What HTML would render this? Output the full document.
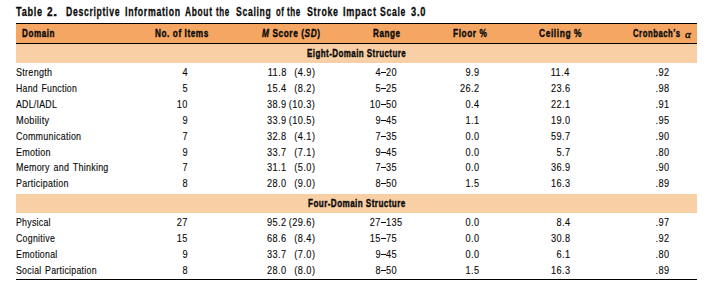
<!DOCTYPE html>
<html><head><meta charset="utf-8"><style>
html,body{margin:0;padding:0;background:#fff;width:713px;height:294px;overflow:hidden;position:relative}
.t{position:absolute;white-space:nowrap;font-family:"Liberation Sans",sans-serif;color:#0a0a0a;line-height:1}
</style></head><body>
<div style="position:absolute;left:16px;top:23px;width:681px;height:1px;background:#000"></div>
<div style="position:absolute;left:16px;top:24px;width:681px;height:19px;background:#F5A663"></div>
<div style="position:absolute;left:16px;top:43px;width:681px;height:1px;background:#000"></div>
<div style="position:absolute;left:16px;top:44px;width:681px;height:19px;background:#F9CFA5"></div>
<div style="position:absolute;left:16px;top:194px;width:681px;height:19px;background:#F9CFA5"></div>
<div style="position:absolute;left:16px;top:279px;width:681px;height:1px;background:#000"></div>
<div class="t" style="right:524.66px;transform-origin:100% 0;transform:scaleX(0.8000);top:66.97px;font-size:11.5px;font-weight:normal;-webkit-text-stroke:0.12px #0a0a0a;letter-spacing:0.55px;">4</div>
<div class="t" style="right:426.36px;transform-origin:100% 0;transform:scaleX(0.8000);top:66.97px;font-size:11.5px;font-weight:normal;-webkit-text-stroke:0.12px #0a0a0a;letter-spacing:0.55px;">11.8</div>
<div class="t" style="right:397.86px;transform-origin:100% 0;transform:scaleX(0.8000);top:66.97px;font-size:11.5px;font-weight:normal;-webkit-text-stroke:0.12px #0a0a0a;letter-spacing:0.55px;">(4.9)</div>
<div class="t" style="right:331.96px;transform-origin:100% 0;transform:scaleX(0.8000);top:66.97px;font-size:11.5px;font-weight:normal;-webkit-text-stroke:0.12px #0a0a0a;letter-spacing:0.55px;">4</div>
<div style="position:absolute;left:380.6px;top:71.60px;width:5.2px;height:1.1px;background:#0a0a0a"></div>
<div class="t" style="left:386.20px;transform-origin:0 0;transform:scaleX(0.8000);top:66.97px;font-size:11.5px;font-weight:normal;-webkit-text-stroke:0.12px #0a0a0a;letter-spacing:0.55px;">20</div>
<div class="t" style="right:233.56px;transform-origin:100% 0;transform:scaleX(0.8000);top:66.97px;font-size:11.5px;font-weight:normal;-webkit-text-stroke:0.12px #0a0a0a;letter-spacing:0.55px;">9.9</div>
<div class="t" style="right:142.86px;transform-origin:100% 0;transform:scaleX(0.8000);top:66.97px;font-size:11.5px;font-weight:normal;-webkit-text-stroke:0.12px #0a0a0a;letter-spacing:0.55px;">11.4</div>
<div class="t" style="right:43.26px;transform-origin:100% 0;transform:scaleX(0.8000);top:66.97px;font-size:11.5px;font-weight:normal;-webkit-text-stroke:0.12px #0a0a0a;letter-spacing:0.55px;">.92</div>
<div class="t" style="right:524.66px;transform-origin:100% 0;transform:scaleX(0.8000);top:82.97px;font-size:11.5px;font-weight:normal;-webkit-text-stroke:0.12px #0a0a0a;letter-spacing:0.55px;">5</div>
<div class="t" style="right:426.36px;transform-origin:100% 0;transform:scaleX(0.8000);top:82.97px;font-size:11.5px;font-weight:normal;-webkit-text-stroke:0.12px #0a0a0a;letter-spacing:0.55px;">15.4</div>
<div class="t" style="right:397.86px;transform-origin:100% 0;transform:scaleX(0.8000);top:82.97px;font-size:11.5px;font-weight:normal;-webkit-text-stroke:0.12px #0a0a0a;letter-spacing:0.55px;">(8.2)</div>
<div class="t" style="right:331.96px;transform-origin:100% 0;transform:scaleX(0.8000);top:82.97px;font-size:11.5px;font-weight:normal;-webkit-text-stroke:0.12px #0a0a0a;letter-spacing:0.55px;">5</div>
<div style="position:absolute;left:380.6px;top:87.60px;width:5.2px;height:1.1px;background:#0a0a0a"></div>
<div class="t" style="left:386.20px;transform-origin:0 0;transform:scaleX(0.8000);top:82.97px;font-size:11.5px;font-weight:normal;-webkit-text-stroke:0.12px #0a0a0a;letter-spacing:0.55px;">25</div>
<div class="t" style="right:233.56px;transform-origin:100% 0;transform:scaleX(0.8000);top:82.97px;font-size:11.5px;font-weight:normal;-webkit-text-stroke:0.12px #0a0a0a;letter-spacing:0.55px;">26.2</div>
<div class="t" style="right:142.86px;transform-origin:100% 0;transform:scaleX(0.8000);top:82.97px;font-size:11.5px;font-weight:normal;-webkit-text-stroke:0.12px #0a0a0a;letter-spacing:0.55px;">23.6</div>
<div class="t" style="right:43.26px;transform-origin:100% 0;transform:scaleX(0.8000);top:82.97px;font-size:11.5px;font-weight:normal;-webkit-text-stroke:0.12px #0a0a0a;letter-spacing:0.55px;">.98</div>
<div class="t" style="right:524.66px;transform-origin:100% 0;transform:scaleX(0.8000);top:98.97px;font-size:11.5px;font-weight:normal;-webkit-text-stroke:0.12px #0a0a0a;letter-spacing:0.55px;">10</div>
<div class="t" style="right:426.36px;transform-origin:100% 0;transform:scaleX(0.8000);top:98.97px;font-size:11.5px;font-weight:normal;-webkit-text-stroke:0.12px #0a0a0a;letter-spacing:0.55px;">38.9</div>
<div class="t" style="right:397.86px;transform-origin:100% 0;transform:scaleX(0.8000);top:98.97px;font-size:11.5px;font-weight:normal;-webkit-text-stroke:0.12px #0a0a0a;letter-spacing:0.55px;">(10.3)</div>
<div class="t" style="right:331.96px;transform-origin:100% 0;transform:scaleX(0.8000);top:98.97px;font-size:11.5px;font-weight:normal;-webkit-text-stroke:0.12px #0a0a0a;letter-spacing:0.55px;">10</div>
<div style="position:absolute;left:380.6px;top:103.60px;width:5.2px;height:1.1px;background:#0a0a0a"></div>
<div class="t" style="left:386.20px;transform-origin:0 0;transform:scaleX(0.8000);top:98.97px;font-size:11.5px;font-weight:normal;-webkit-text-stroke:0.12px #0a0a0a;letter-spacing:0.55px;">50</div>
<div class="t" style="right:233.56px;transform-origin:100% 0;transform:scaleX(0.8000);top:98.97px;font-size:11.5px;font-weight:normal;-webkit-text-stroke:0.12px #0a0a0a;letter-spacing:0.55px;">0.4</div>
<div class="t" style="right:142.86px;transform-origin:100% 0;transform:scaleX(0.8000);top:98.97px;font-size:11.5px;font-weight:normal;-webkit-text-stroke:0.12px #0a0a0a;letter-spacing:0.55px;">22.1</div>
<div class="t" style="right:43.26px;transform-origin:100% 0;transform:scaleX(0.8000);top:98.97px;font-size:11.5px;font-weight:normal;-webkit-text-stroke:0.12px #0a0a0a;letter-spacing:0.55px;">.91</div>
<div class="t" style="right:524.66px;transform-origin:100% 0;transform:scaleX(0.8000);top:114.97px;font-size:11.5px;font-weight:normal;-webkit-text-stroke:0.12px #0a0a0a;letter-spacing:0.55px;">9</div>
<div class="t" style="right:426.36px;transform-origin:100% 0;transform:scaleX(0.8000);top:114.97px;font-size:11.5px;font-weight:normal;-webkit-text-stroke:0.12px #0a0a0a;letter-spacing:0.55px;">33.9</div>
<div class="t" style="right:397.86px;transform-origin:100% 0;transform:scaleX(0.8000);top:114.97px;font-size:11.5px;font-weight:normal;-webkit-text-stroke:0.12px #0a0a0a;letter-spacing:0.55px;">(10.5)</div>
<div class="t" style="right:331.96px;transform-origin:100% 0;transform:scaleX(0.8000);top:114.97px;font-size:11.5px;font-weight:normal;-webkit-text-stroke:0.12px #0a0a0a;letter-spacing:0.55px;">9</div>
<div style="position:absolute;left:380.6px;top:119.60px;width:5.2px;height:1.1px;background:#0a0a0a"></div>
<div class="t" style="left:386.20px;transform-origin:0 0;transform:scaleX(0.8000);top:114.97px;font-size:11.5px;font-weight:normal;-webkit-text-stroke:0.12px #0a0a0a;letter-spacing:0.55px;">45</div>
<div class="t" style="right:233.56px;transform-origin:100% 0;transform:scaleX(0.8000);top:114.97px;font-size:11.5px;font-weight:normal;-webkit-text-stroke:0.12px #0a0a0a;letter-spacing:0.55px;">1.1</div>
<div class="t" style="right:142.86px;transform-origin:100% 0;transform:scaleX(0.8000);top:114.97px;font-size:11.5px;font-weight:normal;-webkit-text-stroke:0.12px #0a0a0a;letter-spacing:0.55px;">19.0</div>
<div class="t" style="right:43.26px;transform-origin:100% 0;transform:scaleX(0.8000);top:114.97px;font-size:11.5px;font-weight:normal;-webkit-text-stroke:0.12px #0a0a0a;letter-spacing:0.55px;">.95</div>
<div class="t" style="right:524.66px;transform-origin:100% 0;transform:scaleX(0.8000);top:130.97px;font-size:11.5px;font-weight:normal;-webkit-text-stroke:0.12px #0a0a0a;letter-spacing:0.55px;">7</div>
<div class="t" style="right:426.36px;transform-origin:100% 0;transform:scaleX(0.8000);top:130.97px;font-size:11.5px;font-weight:normal;-webkit-text-stroke:0.12px #0a0a0a;letter-spacing:0.55px;">32.8</div>
<div class="t" style="right:397.86px;transform-origin:100% 0;transform:scaleX(0.8000);top:130.97px;font-size:11.5px;font-weight:normal;-webkit-text-stroke:0.12px #0a0a0a;letter-spacing:0.55px;">(4.1)</div>
<div class="t" style="right:331.96px;transform-origin:100% 0;transform:scaleX(0.8000);top:130.97px;font-size:11.5px;font-weight:normal;-webkit-text-stroke:0.12px #0a0a0a;letter-spacing:0.55px;">7</div>
<div style="position:absolute;left:380.6px;top:135.60px;width:5.2px;height:1.1px;background:#0a0a0a"></div>
<div class="t" style="left:386.20px;transform-origin:0 0;transform:scaleX(0.8000);top:130.97px;font-size:11.5px;font-weight:normal;-webkit-text-stroke:0.12px #0a0a0a;letter-spacing:0.55px;">35</div>
<div class="t" style="right:233.56px;transform-origin:100% 0;transform:scaleX(0.8000);top:130.97px;font-size:11.5px;font-weight:normal;-webkit-text-stroke:0.12px #0a0a0a;letter-spacing:0.55px;">0.0</div>
<div class="t" style="right:142.86px;transform-origin:100% 0;transform:scaleX(0.8000);top:130.97px;font-size:11.5px;font-weight:normal;-webkit-text-stroke:0.12px #0a0a0a;letter-spacing:0.55px;">59.7</div>
<div class="t" style="right:43.26px;transform-origin:100% 0;transform:scaleX(0.8000);top:130.97px;font-size:11.5px;font-weight:normal;-webkit-text-stroke:0.12px #0a0a0a;letter-spacing:0.55px;">.90</div>
<div class="t" style="right:524.66px;transform-origin:100% 0;transform:scaleX(0.8000);top:146.97px;font-size:11.5px;font-weight:normal;-webkit-text-stroke:0.12px #0a0a0a;letter-spacing:0.55px;">9</div>
<div class="t" style="right:426.36px;transform-origin:100% 0;transform:scaleX(0.8000);top:146.97px;font-size:11.5px;font-weight:normal;-webkit-text-stroke:0.12px #0a0a0a;letter-spacing:0.55px;">33.7</div>
<div class="t" style="right:397.86px;transform-origin:100% 0;transform:scaleX(0.8000);top:146.97px;font-size:11.5px;font-weight:normal;-webkit-text-stroke:0.12px #0a0a0a;letter-spacing:0.55px;">(7.1)</div>
<div class="t" style="right:331.96px;transform-origin:100% 0;transform:scaleX(0.8000);top:146.97px;font-size:11.5px;font-weight:normal;-webkit-text-stroke:0.12px #0a0a0a;letter-spacing:0.55px;">9</div>
<div style="position:absolute;left:380.6px;top:151.60px;width:5.2px;height:1.1px;background:#0a0a0a"></div>
<div class="t" style="left:386.20px;transform-origin:0 0;transform:scaleX(0.8000);top:146.97px;font-size:11.5px;font-weight:normal;-webkit-text-stroke:0.12px #0a0a0a;letter-spacing:0.55px;">45</div>
<div class="t" style="right:233.56px;transform-origin:100% 0;transform:scaleX(0.8000);top:146.97px;font-size:11.5px;font-weight:normal;-webkit-text-stroke:0.12px #0a0a0a;letter-spacing:0.55px;">0.0</div>
<div class="t" style="right:142.86px;transform-origin:100% 0;transform:scaleX(0.8000);top:146.97px;font-size:11.5px;font-weight:normal;-webkit-text-stroke:0.12px #0a0a0a;letter-spacing:0.55px;">5.7</div>
<div class="t" style="right:43.26px;transform-origin:100% 0;transform:scaleX(0.8000);top:146.97px;font-size:11.5px;font-weight:normal;-webkit-text-stroke:0.12px #0a0a0a;letter-spacing:0.55px;">.80</div>
<div class="t" style="right:524.66px;transform-origin:100% 0;transform:scaleX(0.8000);top:162.17px;font-size:11.5px;font-weight:normal;-webkit-text-stroke:0.12px #0a0a0a;letter-spacing:0.55px;">7</div>
<div class="t" style="right:426.36px;transform-origin:100% 0;transform:scaleX(0.8000);top:162.17px;font-size:11.5px;font-weight:normal;-webkit-text-stroke:0.12px #0a0a0a;letter-spacing:0.55px;">31.1</div>
<div class="t" style="right:397.86px;transform-origin:100% 0;transform:scaleX(0.8000);top:162.17px;font-size:11.5px;font-weight:normal;-webkit-text-stroke:0.12px #0a0a0a;letter-spacing:0.55px;">(5.0)</div>
<div class="t" style="right:331.96px;transform-origin:100% 0;transform:scaleX(0.8000);top:162.17px;font-size:11.5px;font-weight:normal;-webkit-text-stroke:0.12px #0a0a0a;letter-spacing:0.55px;">7</div>
<div style="position:absolute;left:380.6px;top:166.80px;width:5.2px;height:1.1px;background:#0a0a0a"></div>
<div class="t" style="left:386.20px;transform-origin:0 0;transform:scaleX(0.8000);top:162.17px;font-size:11.5px;font-weight:normal;-webkit-text-stroke:0.12px #0a0a0a;letter-spacing:0.55px;">35</div>
<div class="t" style="right:233.56px;transform-origin:100% 0;transform:scaleX(0.8000);top:162.17px;font-size:11.5px;font-weight:normal;-webkit-text-stroke:0.12px #0a0a0a;letter-spacing:0.55px;">0.0</div>
<div class="t" style="right:142.86px;transform-origin:100% 0;transform:scaleX(0.8000);top:162.17px;font-size:11.5px;font-weight:normal;-webkit-text-stroke:0.12px #0a0a0a;letter-spacing:0.55px;">36.9</div>
<div class="t" style="right:43.26px;transform-origin:100% 0;transform:scaleX(0.8000);top:162.17px;font-size:11.5px;font-weight:normal;-webkit-text-stroke:0.12px #0a0a0a;letter-spacing:0.55px;">.90</div>
<div class="t" style="right:524.66px;transform-origin:100% 0;transform:scaleX(0.8000);top:178.07px;font-size:11.5px;font-weight:normal;-webkit-text-stroke:0.12px #0a0a0a;letter-spacing:0.55px;">8</div>
<div class="t" style="right:426.36px;transform-origin:100% 0;transform:scaleX(0.8000);top:178.07px;font-size:11.5px;font-weight:normal;-webkit-text-stroke:0.12px #0a0a0a;letter-spacing:0.55px;">28.0</div>
<div class="t" style="right:397.86px;transform-origin:100% 0;transform:scaleX(0.8000);top:178.07px;font-size:11.5px;font-weight:normal;-webkit-text-stroke:0.12px #0a0a0a;letter-spacing:0.55px;">(9.0)</div>
<div class="t" style="right:331.96px;transform-origin:100% 0;transform:scaleX(0.8000);top:178.07px;font-size:11.5px;font-weight:normal;-webkit-text-stroke:0.12px #0a0a0a;letter-spacing:0.55px;">8</div>
<div style="position:absolute;left:380.6px;top:182.70px;width:5.2px;height:1.1px;background:#0a0a0a"></div>
<div class="t" style="left:386.20px;transform-origin:0 0;transform:scaleX(0.8000);top:178.07px;font-size:11.5px;font-weight:normal;-webkit-text-stroke:0.12px #0a0a0a;letter-spacing:0.55px;">50</div>
<div class="t" style="right:233.56px;transform-origin:100% 0;transform:scaleX(0.8000);top:178.07px;font-size:11.5px;font-weight:normal;-webkit-text-stroke:0.12px #0a0a0a;letter-spacing:0.55px;">1.5</div>
<div class="t" style="right:142.86px;transform-origin:100% 0;transform:scaleX(0.8000);top:178.07px;font-size:11.5px;font-weight:normal;-webkit-text-stroke:0.12px #0a0a0a;letter-spacing:0.55px;">16.3</div>
<div class="t" style="right:43.26px;transform-origin:100% 0;transform:scaleX(0.8000);top:178.07px;font-size:11.5px;font-weight:normal;-webkit-text-stroke:0.12px #0a0a0a;letter-spacing:0.55px;">.89</div>
<div class="t" style="right:524.66px;transform-origin:100% 0;transform:scaleX(0.8000);top:216.97px;font-size:11.5px;font-weight:normal;-webkit-text-stroke:0.12px #0a0a0a;letter-spacing:0.55px;">27</div>
<div class="t" style="right:426.36px;transform-origin:100% 0;transform:scaleX(0.8000);top:216.97px;font-size:11.5px;font-weight:normal;-webkit-text-stroke:0.12px #0a0a0a;letter-spacing:0.55px;">95.2</div>
<div class="t" style="right:397.86px;transform-origin:100% 0;transform:scaleX(0.8000);top:216.97px;font-size:11.5px;font-weight:normal;-webkit-text-stroke:0.12px #0a0a0a;letter-spacing:0.55px;">(29.6)</div>
<div class="t" style="right:331.96px;transform-origin:100% 0;transform:scaleX(0.8000);top:216.97px;font-size:11.5px;font-weight:normal;-webkit-text-stroke:0.12px #0a0a0a;letter-spacing:0.55px;">27</div>
<div style="position:absolute;left:380.6px;top:221.60px;width:5.2px;height:1.1px;background:#0a0a0a"></div>
<div class="t" style="left:386.20px;transform-origin:0 0;transform:scaleX(0.8000);top:216.97px;font-size:11.5px;font-weight:normal;-webkit-text-stroke:0.12px #0a0a0a;letter-spacing:0.55px;">135</div>
<div class="t" style="right:233.56px;transform-origin:100% 0;transform:scaleX(0.8000);top:216.97px;font-size:11.5px;font-weight:normal;-webkit-text-stroke:0.12px #0a0a0a;letter-spacing:0.55px;">0.0</div>
<div class="t" style="right:142.86px;transform-origin:100% 0;transform:scaleX(0.8000);top:216.97px;font-size:11.5px;font-weight:normal;-webkit-text-stroke:0.12px #0a0a0a;letter-spacing:0.55px;">8.4</div>
<div class="t" style="right:43.26px;transform-origin:100% 0;transform:scaleX(0.8000);top:216.97px;font-size:11.5px;font-weight:normal;-webkit-text-stroke:0.12px #0a0a0a;letter-spacing:0.55px;">.97</div>
<div class="t" style="right:524.66px;transform-origin:100% 0;transform:scaleX(0.8000);top:232.97px;font-size:11.5px;font-weight:normal;-webkit-text-stroke:0.12px #0a0a0a;letter-spacing:0.55px;">15</div>
<div class="t" style="right:426.36px;transform-origin:100% 0;transform:scaleX(0.8000);top:232.97px;font-size:11.5px;font-weight:normal;-webkit-text-stroke:0.12px #0a0a0a;letter-spacing:0.55px;">68.6</div>
<div class="t" style="right:397.86px;transform-origin:100% 0;transform:scaleX(0.8000);top:232.97px;font-size:11.5px;font-weight:normal;-webkit-text-stroke:0.12px #0a0a0a;letter-spacing:0.55px;">(8.4)</div>
<div class="t" style="right:331.96px;transform-origin:100% 0;transform:scaleX(0.8000);top:232.97px;font-size:11.5px;font-weight:normal;-webkit-text-stroke:0.12px #0a0a0a;letter-spacing:0.55px;">15</div>
<div style="position:absolute;left:380.6px;top:237.60px;width:5.2px;height:1.1px;background:#0a0a0a"></div>
<div class="t" style="left:386.20px;transform-origin:0 0;transform:scaleX(0.8000);top:232.97px;font-size:11.5px;font-weight:normal;-webkit-text-stroke:0.12px #0a0a0a;letter-spacing:0.55px;">75</div>
<div class="t" style="right:233.56px;transform-origin:100% 0;transform:scaleX(0.8000);top:232.97px;font-size:11.5px;font-weight:normal;-webkit-text-stroke:0.12px #0a0a0a;letter-spacing:0.55px;">0.0</div>
<div class="t" style="right:142.86px;transform-origin:100% 0;transform:scaleX(0.8000);top:232.97px;font-size:11.5px;font-weight:normal;-webkit-text-stroke:0.12px #0a0a0a;letter-spacing:0.55px;">30.8</div>
<div class="t" style="right:43.26px;transform-origin:100% 0;transform:scaleX(0.8000);top:232.97px;font-size:11.5px;font-weight:normal;-webkit-text-stroke:0.12px #0a0a0a;letter-spacing:0.55px;">.92</div>
<div class="t" style="right:524.66px;transform-origin:100% 0;transform:scaleX(0.8000);top:248.97px;font-size:11.5px;font-weight:normal;-webkit-text-stroke:0.12px #0a0a0a;letter-spacing:0.55px;">9</div>
<div class="t" style="right:426.36px;transform-origin:100% 0;transform:scaleX(0.8000);top:248.97px;font-size:11.5px;font-weight:normal;-webkit-text-stroke:0.12px #0a0a0a;letter-spacing:0.55px;">33.7</div>
<div class="t" style="right:397.86px;transform-origin:100% 0;transform:scaleX(0.8000);top:248.97px;font-size:11.5px;font-weight:normal;-webkit-text-stroke:0.12px #0a0a0a;letter-spacing:0.55px;">(7.0)</div>
<div class="t" style="right:331.96px;transform-origin:100% 0;transform:scaleX(0.8000);top:248.97px;font-size:11.5px;font-weight:normal;-webkit-text-stroke:0.12px #0a0a0a;letter-spacing:0.55px;">9</div>
<div style="position:absolute;left:380.6px;top:253.60px;width:5.2px;height:1.1px;background:#0a0a0a"></div>
<div class="t" style="left:386.20px;transform-origin:0 0;transform:scaleX(0.8000);top:248.97px;font-size:11.5px;font-weight:normal;-webkit-text-stroke:0.12px #0a0a0a;letter-spacing:0.55px;">45</div>
<div class="t" style="right:233.56px;transform-origin:100% 0;transform:scaleX(0.8000);top:248.97px;font-size:11.5px;font-weight:normal;-webkit-text-stroke:0.12px #0a0a0a;letter-spacing:0.55px;">0.0</div>
<div class="t" style="right:142.86px;transform-origin:100% 0;transform:scaleX(0.8000);top:248.97px;font-size:11.5px;font-weight:normal;-webkit-text-stroke:0.12px #0a0a0a;letter-spacing:0.55px;">6.1</div>
<div class="t" style="right:43.26px;transform-origin:100% 0;transform:scaleX(0.8000);top:248.97px;font-size:11.5px;font-weight:normal;-webkit-text-stroke:0.12px #0a0a0a;letter-spacing:0.55px;">.80</div>
<div class="t" style="right:524.66px;transform-origin:100% 0;transform:scaleX(0.8000);top:264.97px;font-size:11.5px;font-weight:normal;-webkit-text-stroke:0.12px #0a0a0a;letter-spacing:0.55px;">8</div>
<div class="t" style="right:426.36px;transform-origin:100% 0;transform:scaleX(0.8000);top:264.97px;font-size:11.5px;font-weight:normal;-webkit-text-stroke:0.12px #0a0a0a;letter-spacing:0.55px;">28.0</div>
<div class="t" style="right:397.86px;transform-origin:100% 0;transform:scaleX(0.8000);top:264.97px;font-size:11.5px;font-weight:normal;-webkit-text-stroke:0.12px #0a0a0a;letter-spacing:0.55px;">(8.0)</div>
<div class="t" style="right:331.96px;transform-origin:100% 0;transform:scaleX(0.8000);top:264.97px;font-size:11.5px;font-weight:normal;-webkit-text-stroke:0.12px #0a0a0a;letter-spacing:0.55px;">8</div>
<div style="position:absolute;left:380.6px;top:269.60px;width:5.2px;height:1.1px;background:#0a0a0a"></div>
<div class="t" style="left:386.20px;transform-origin:0 0;transform:scaleX(0.8000);top:264.97px;font-size:11.5px;font-weight:normal;-webkit-text-stroke:0.12px #0a0a0a;letter-spacing:0.55px;">50</div>
<div class="t" style="right:233.56px;transform-origin:100% 0;transform:scaleX(0.8000);top:264.97px;font-size:11.5px;font-weight:normal;-webkit-text-stroke:0.12px #0a0a0a;letter-spacing:0.55px;">1.5</div>
<div class="t" style="right:142.86px;transform-origin:100% 0;transform:scaleX(0.8000);top:264.97px;font-size:11.5px;font-weight:normal;-webkit-text-stroke:0.12px #0a0a0a;letter-spacing:0.55px;">16.3</div>
<div class="t" style="right:43.26px;transform-origin:100% 0;transform:scaleX(0.8000);top:264.97px;font-size:11.5px;font-weight:normal;-webkit-text-stroke:0.12px #0a0a0a;letter-spacing:0.55px;">.89</div>
<div class="t" style="left:16.20px;transform-origin:0 0;transform:scaleX(0.7333);top:6.12px;font-size:12.5px;font-weight:bold;-webkit-text-stroke:0.28px #0a0a0a;letter-spacing:1.0px;">Table</div>
<div class="t" style="left:47.00px;transform-origin:0 0;transform:scaleX(0.8000);top:6.12px;font-size:12.5px;font-weight:bold;-webkit-text-stroke:0.28px #0a0a0a;letter-spacing:1.0px;">2</div>
<div class="t" style="left:52.55px;transform-origin:0 0;transform:scaleX(1.2500);top:6.12px;font-size:12.5px;font-weight:bold;-webkit-text-stroke:0.28px #0a0a0a;letter-spacing:1.0px;">.</div>
<div class="t" style="left:66.21px;transform-origin:0 0;transform:scaleX(0.6908);top:6.12px;font-size:12.5px;font-weight:bold;-webkit-text-stroke:0.28px #0a0a0a;letter-spacing:1.0px;">Descriptive</div>
<div class="t" style="left:125.20px;transform-origin:0 0;transform:scaleX(0.7000);top:6.12px;font-size:12.5px;font-weight:bold;-webkit-text-stroke:0.28px #0a0a0a;letter-spacing:1.0px;">Information</div>
<div class="t" style="left:184.80px;transform-origin:0 0;transform:scaleX(0.6725);top:6.12px;font-size:12.5px;font-weight:bold;-webkit-text-stroke:0.28px #0a0a0a;letter-spacing:1.0px;">About</div>
<div class="t" style="left:216.00px;transform-origin:0 0;transform:scaleX(0.6381);top:6.12px;font-size:12.5px;font-weight:bold;-webkit-text-stroke:0.28px #0a0a0a;letter-spacing:1.0px;">the</div>
<div class="t" style="left:235.90px;transform-origin:0 0;transform:scaleX(0.6900);top:6.12px;font-size:12.5px;font-weight:bold;-webkit-text-stroke:0.28px #0a0a0a;letter-spacing:1.0px;">Scaling</div>
<div class="t" style="left:275.50px;transform-origin:0 0;transform:scaleX(0.6154);top:6.12px;font-size:12.5px;font-weight:bold;-webkit-text-stroke:0.28px #0a0a0a;letter-spacing:1.0px;">of</div>
<div class="t" style="left:287.20px;transform-origin:0 0;transform:scaleX(0.6429);top:6.12px;font-size:12.5px;font-weight:bold;-webkit-text-stroke:0.28px #0a0a0a;letter-spacing:1.0px;">the</div>
<div class="t" style="left:306.60px;transform-origin:0 0;transform:scaleX(0.7068);top:6.12px;font-size:12.5px;font-weight:bold;-webkit-text-stroke:0.28px #0a0a0a;letter-spacing:1.0px;">Stroke</div>
<div class="t" style="left:342.97px;transform-origin:0 0;transform:scaleX(0.7267);top:6.12px;font-size:12.5px;font-weight:bold;-webkit-text-stroke:0.28px #0a0a0a;letter-spacing:1.0px;">Impact</div>
<div class="t" style="left:380.20px;transform-origin:0 0;transform:scaleX(0.6919);top:6.12px;font-size:12.5px;font-weight:bold;-webkit-text-stroke:0.28px #0a0a0a;letter-spacing:1.0px;">Scale</div>
<div class="t" style="left:411.40px;transform-origin:0 0;transform:scaleX(0.7421);top:6.12px;font-size:12.5px;font-weight:bold;-webkit-text-stroke:0.28px #0a0a0a;letter-spacing:1.0px;">3.0</div>
<div class="t" style="left:21.90px;transform-origin:0 0;transform:scaleX(0.7022);top:27.97px;font-size:11.5px;font-weight:bold;-webkit-text-stroke:0.4px #0a0a0a;letter-spacing:0.8px;">Domain</div>
<div class="t" style="left:155.40px;transform-origin:0 0;transform:scaleX(0.7147);top:27.97px;font-size:11.5px;font-weight:bold;-webkit-text-stroke:0.4px #0a0a0a;letter-spacing:0.8px;">No. of Items</div>
<div class="t" style="left:262.00px;transform-origin:0 0;transform:scaleX(0.7225);top:27.97px;font-size:11.5px;font-weight:bold;-webkit-text-stroke:0.4px #0a0a0a;letter-spacing:0.8px;"><i>M</i> Score (<i>SD</i>)</div>
<div class="t" style="left:372.90px;transform-origin:0 0;transform:scaleX(0.7053);top:27.97px;font-size:11.5px;font-weight:bold;-webkit-text-stroke:0.4px #0a0a0a;letter-spacing:0.8px;">Range</div>
<div class="t" style="left:452.60px;transform-origin:0 0;transform:scaleX(0.7191);top:27.97px;font-size:11.5px;font-weight:bold;-webkit-text-stroke:0.4px #0a0a0a;letter-spacing:0.8px;">Floor %</div>
<div class="t" style="left:538.60px;transform-origin:0 0;transform:scaleX(0.7310);top:27.97px;font-size:11.5px;font-weight:bold;-webkit-text-stroke:0.4px #0a0a0a;letter-spacing:0.8px;">Ceiling %</div>
<div class="t" style="left:633.40px;transform-origin:0 0;transform:scaleX(0.6714);top:27.97px;font-size:11.5px;font-weight:bold;-webkit-text-stroke:0.4px #0a0a0a;letter-spacing:0.8px;">Cronbach’s</div>
<div class="t" style="left:684.80px;transform-origin:0 0;transform:scaleX(1.0667);top:28.81px;font-size:10.5px;font-weight:normal;-webkit-text-stroke:0.35px #0a0a0a;"><span style="font-family:'Liberation Serif';font-style:italic">α</span></div>
<div class="t" style="left:306.80px;transform-origin:0 0;transform:scaleX(0.6972);top:47.97px;font-size:11.5px;font-weight:bold;-webkit-text-stroke:0.4px #0a0a0a;letter-spacing:0.6px;">Eight-Domain Structure</div>
<div class="t" style="left:307.60px;transform-origin:0 0;transform:scaleX(0.7058);top:197.97px;font-size:11.5px;font-weight:bold;-webkit-text-stroke:0.4px #0a0a0a;letter-spacing:0.6px;">Four-Domain Structure</div>
<div class="t" style="left:15.52px;transform-origin:0 0;transform:scaleX(0.7841);top:66.97px;font-size:11.5px;font-weight:normal;-webkit-text-stroke:0.15px #0a0a0a;letter-spacing:0.35px;"><span style="word-spacing:1.2px">Strength</span></div>
<div class="t" style="left:15.54px;transform-origin:0 0;transform:scaleX(0.7582);top:82.97px;font-size:11.5px;font-weight:normal;-webkit-text-stroke:0.15px #0a0a0a;letter-spacing:0.35px;"><span style="word-spacing:1.2px">Hand Function</span></div>
<div class="t" style="left:16.30px;transform-origin:0 0;transform:scaleX(0.7623);top:98.97px;font-size:11.5px;font-weight:normal;-webkit-text-stroke:0.15px #0a0a0a;letter-spacing:0.35px;"><span style="word-spacing:1.2px">ADL/IADL</span></div>
<div class="t" style="left:15.50px;transform-origin:0 0;transform:scaleX(0.7976);top:114.97px;font-size:11.5px;font-weight:normal;-webkit-text-stroke:0.15px #0a0a0a;letter-spacing:0.35px;"><span style="word-spacing:1.2px">Mobility</span></div>
<div class="t" style="left:16.30px;transform-origin:0 0;transform:scaleX(0.7738);top:130.97px;font-size:11.5px;font-weight:normal;-webkit-text-stroke:0.15px #0a0a0a;letter-spacing:0.35px;"><span style="word-spacing:1.2px">Communication</span></div>
<div class="t" style="left:15.52px;transform-origin:0 0;transform:scaleX(0.7791);top:146.97px;font-size:11.5px;font-weight:normal;-webkit-text-stroke:0.15px #0a0a0a;letter-spacing:0.35px;"><span style="word-spacing:1.2px">Emotion</span></div>
<div class="t" style="left:15.52px;transform-origin:0 0;transform:scaleX(0.7754);top:162.17px;font-size:11.5px;font-weight:normal;-webkit-text-stroke:0.15px #0a0a0a;letter-spacing:0.35px;"><span style="word-spacing:1.2px">Memory and Thinking</span></div>
<div class="t" style="left:15.52px;transform-origin:0 0;transform:scaleX(0.7758);top:178.07px;font-size:11.5px;font-weight:normal;-webkit-text-stroke:0.15px #0a0a0a;letter-spacing:0.35px;"><span style="word-spacing:1.2px">Participation</span></div>
<div class="t" style="left:15.54px;transform-origin:0 0;transform:scaleX(0.7636);top:216.97px;font-size:11.5px;font-weight:normal;-webkit-text-stroke:0.15px #0a0a0a;letter-spacing:0.35px;"><span style="word-spacing:1.2px">Physical</span></div>
<div class="t" style="left:16.30px;transform-origin:0 0;transform:scaleX(0.7640);top:232.97px;font-size:11.5px;font-weight:normal;-webkit-text-stroke:0.15px #0a0a0a;letter-spacing:0.35px;"><span style="word-spacing:1.2px">Cognitive</span></div>
<div class="t" style="left:15.53px;transform-origin:0 0;transform:scaleX(0.7660);top:248.97px;font-size:11.5px;font-weight:normal;-webkit-text-stroke:0.15px #0a0a0a;letter-spacing:0.35px;"><span style="word-spacing:1.2px">Emotional</span></div>
<div class="t" style="left:15.54px;transform-origin:0 0;transform:scaleX(0.7625);top:264.97px;font-size:11.5px;font-weight:normal;-webkit-text-stroke:0.15px #0a0a0a;letter-spacing:0.35px;"><span style="word-spacing:1.2px">Social Participation</span></div>
</body></html>
